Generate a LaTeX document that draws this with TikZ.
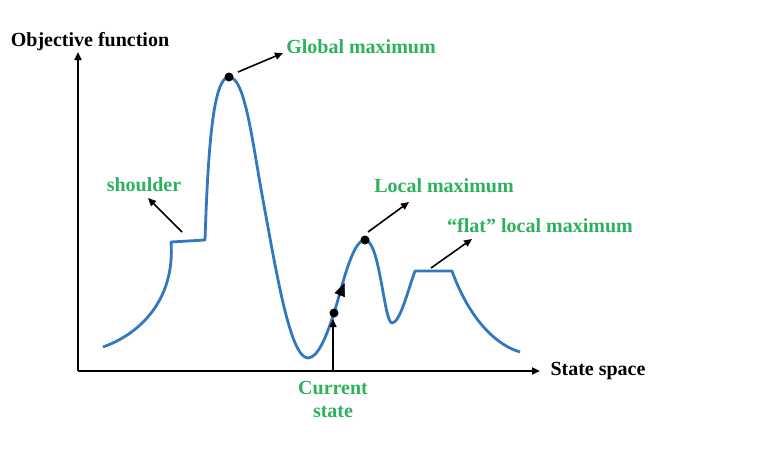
\documentclass[tikz,border=0pt]{standalone}
\usepackage{fontspec}
\setmainfont{Liberation Serif}
\usetikzlibrary{arrows.meta}
\definecolor{lblgreen}{RGB}{44,178,92}
\definecolor{curveblue}{RGB}{50,120,190}
\begin{document}
\begin{tikzpicture}[x=1pt,y=-1pt,
  axis/.style={line width=2pt,black,-{Triangle[length=8pt,width=7pt]}},
  pointer/.style={line width=1.6pt,black,-{Triangle[length=8pt,width=7pt]}},
  lbl/.style={text=lblgreen,font=\bfseries\fontsize{20}{23}\selectfont,inner sep=0pt},
  axlbl/.style={text=black,font=\bfseries\fontsize{20}{23}\selectfont,inner sep=0pt},
  dot/.style={circle,fill=black,inner sep=0pt,minimum size=9pt},
  curve/.style={line width=2.8pt,curveblue,line join=round}]
\useasboundingbox (0,0) rectangle (768,450);
% axes
\coordinate (origin) at (78,371);
\coordinate (ytip) at (78,52);
\coordinate (xtip) at (540,371);
\draw[axis] (origin) -- (ytip);
\draw[axis] (origin) -- (xtip);
\node[axlbl] (ylabel) at (90,42) {Objective function};
\node[axlbl] (xlabel) at (598,371) {State space};
% landscape curve
\draw[curve] (103,347) .. controls (145,332) and (175,295) .. (171,242)
  -- (205,240)
  .. controls (208,150) and (213,77) .. (229,77)
  .. controls (245,77) and (252,140) .. (263,200)
  .. controls (276,270) and (290,358) .. (308,358)
  .. controls (318,358) and (327,335) .. (334,313)
  .. controls (342,288) and (352,240) .. (365,240)
  .. controls (380,240) and (384,323) .. (392,323)
  .. controls (400,323) and (408,290) .. (415,271)
  -- (452,271)
  .. controls (466,310) and (490,343) .. (520,352);
% dots
\node[dot] (gmax) at (229,77) {};
\node[dot] (lmax) at (365,240) {};
\node[dot] (cur) at (334,313) {};
% direction arrowhead on curve
\coordinate (dirA) at (339,297);
\coordinate (dirB) at (344.5,283);
\draw[line width=0.5pt,black,-{Triangle[length=13pt,width=11pt]}] (dirA) -- (dirB);
% labels
\node[lbl] (glbl) at (361,47) {Global maximum};
\node[lbl] (shlbl) at (144,185) {shoulder};
\node[lbl] (llbl) at (444,186) {Local maximum};
\node[lbl] (flbl) at (540,226) {“flat” local maximum};
\node[lbl,align=center] (clbl) at (333,399) {Current\\state};
% pointers
\coordinate (g1) at (238,72);
\coordinate (g2) at (283,53);
\draw[pointer] (g1) -- (g2);
\coordinate (s1) at (182,232);
\coordinate (s2) at (148,198);
\draw[pointer] (s1) -- (s2);
\coordinate (l1) at (368,232);
\coordinate (l2) at (409,202);
\draw[pointer] (l1) -- (l2);
\coordinate (f1) at (431,268);
\coordinate (f2) at (472,239);
\draw[pointer] (f1) -- (f2);
\coordinate (c1) at (333,371);
\coordinate (c2) at (333,319);
\draw[pointer] (c1) -- (c2);
\end{tikzpicture}
\end{document}
